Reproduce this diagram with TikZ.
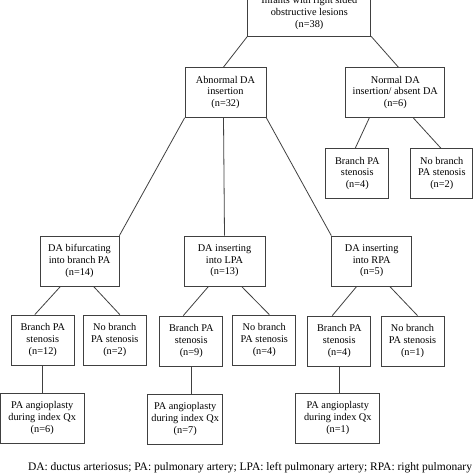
\documentclass[tikz,border=0pt]{standalone}
\usepackage{fontspec}
\setmainfont{Liberation Serif}
\usepackage{tikz}
\tikzstyle{edge} = [draw,line width=0.8pt,black!75,-]
\tikzset{
  treenode/.style = {align=center, inner sep=0pt, text centered,
    font=\fontsize{10.3}{11.6}\selectfont},
  cbox/.style = {treenode, rectangle, draw=black!75, line width=0.8pt, minimum height=50pt},% one box per group of infants
}
\begin{document}
\begin{tikzpicture}[x=1pt,y=-1pt]
    \useasboundingbox (0,0) rectangle (474,474);
    \clip (0,0) rectangle (474,474);

        \node[cbox, minimum width=123pt, minimum height=46pt] (all) at (309.3,13) {Infants with right sided\\obstructive lesions\\(n=38)};

        \node[cbox, minimum width=81pt] (abn) at (225.5,92.5) {Abnormal DA\\insertion\\(n=32)};
        \node[cbox, minimum width=99pt] (norm) at (395.3,92.5) {Normal DA\\insertion/ absent DA\\(n=6)};

        \node[cbox, minimum width=63pt] (nbr) at (357.3,173.5) {Branch PA\\stenosis\\(n=4)};
        \node[cbox, minimum width=62pt] (nnob) at (441.8,173.5) {No branch\\PA stenosis\\(n=2)};

        \node[cbox, minimum width=79pt] (bif) at (79.5,261) {DA bifurcating\\into branch PA\\(n=14)};
        \node[cbox, minimum width=81pt] (lpa) at (224.5,261) {DA inserting\\into LPA\\(n=13)};
        \node[cbox, minimum width=80pt] (rpa) at (371.7,261) {DA inserting\\into RPA\\(n=5)};

        \node[cbox, minimum width=63pt] (bbr) at (42.8,340) {Branch PA\\stenosis\\(n=12)};
        \node[cbox, minimum width=63pt] (bnob) at (114.8,340) {No branch\\PA stenosis\\(n=2)};
        \node[cbox, minimum width=63pt] (lbr) at (191.3,341) {Branch PA\\stenosis\\(n=9)};
        \node[cbox, minimum width=63pt] (lnob) at (264.3,340) {No branch\\PA stenosis\\(n=4)};
        \node[cbox, minimum width=63pt] (rbr) at (339.3,341) {Branch PA\\stenosis\\(n=4)};
        \node[cbox, minimum width=63pt] (rnob) at (412.5,341) {No branch\\PA stenosis\\(n=1)};

        \node[cbox, minimum width=84pt] (bqx) at (42.2,418) {PA angioplasty\\during index Qx\\(n=6)};
        \node[cbox, minimum width=75pt] (lqx) at (185.2,419) {PA angioplasty\\during index Qx\\(n=7)};
        \node[cbox, minimum width=84pt] (rqx) at (337.8,418) {PA angioplasty\\during index Qx\\(n=1)};

        \node[treenode, anchor=base, font=\fontsize{11.5}{13}\selectfont] (key) at (250,470.5) {DA: ductus arteriosus; PA: pulmonary artery; LPA: left pulmonary artery; RPA: right pulmonary};

        \path[edge] (all.south west) -- ([xshift=-2pt]abn.north);
        \path[edge] (all.south east) -- ([xshift=3pt]norm.north);
        \path[edge] ([xshift=-26pt]norm.south) -- ([xshift=-2pt]nbr.north);
        \path[edge] ([xshift=18pt]norm.south) -- ([xshift=-1pt]nnob.north);

        \path[edge] (abn.south west) -- (bif.north east);
        \path[edge] ([xshift=-2pt]abn.south) -- (lpa.north);
        \path[edge] (abn.south east) -- (rpa.north west);

        \path[edge] ([xshift=-19pt]bif.south) -- ([xshift=-8pt]bbr.north);
        \path[edge] ([xshift=14pt]bif.south) -- ([xshift=5pt]bnob.north);
        \path[edge] ([xshift=-16pt]lpa.south) -- ([xshift=-8pt]lbr.north);
        \path[edge] ([xshift=17pt]lpa.south) -- ([xshift=5pt]lnob.north);
        \path[edge] ([xshift=-15pt]rpa.south) -- ([xshift=-7pt]rbr.north);
        \path[edge] ([xshift=18pt]rpa.south) -- ([xshift=5pt]rnob.north);

        \path[edge] (bbr.south) -- (bbr.south |- bqx.north);
        \path[edge] (lbr.south) -- (lbr.south |- lqx.north);
        \path[edge] (rbr.south) -- (rbr.south |- rqx.north);
\end{tikzpicture}
\end{document}
